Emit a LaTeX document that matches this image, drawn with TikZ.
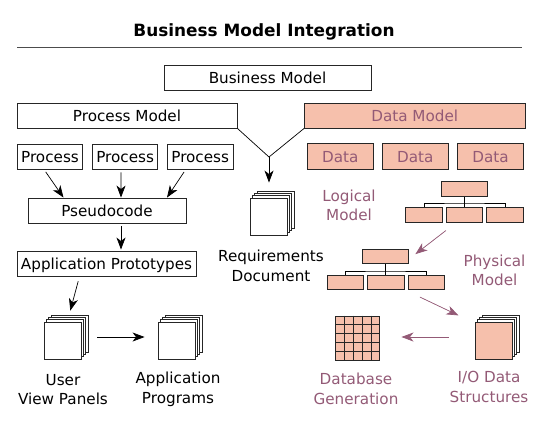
\documentclass[tikz,border=0pt]{standalone}
\usepackage{fontspec}
\setmainfont{DejaVu Sans}
\usetikzlibrary{arrows.meta, positioning, calc}
\definecolor{pmfill}{HTML}{F6C0AC}
\definecolor{pmtext}{HTML}{935A76}
\tikzset{
  pm box/.style={
    rectangle, draw=black!85, fill=white, line width=0.9pt,
    minimum height=25pt, inner sep=0pt, font=\pmfont,
    text height=12.5pt, text depth=0pt
  },
  pm data/.style={
    pm box, fill=pmfill, text=pmtext
  },
  pm org/.style={
    rectangle, draw=black!85, fill=pmfill, line width=0.9pt,
    minimum width=36.5pt, minimum height=14.5pt, inner sep=0pt
  },
  pm page/.style={
    rectangle, draw=black!85, fill=white, line width=0.9pt,
    minimum size=37pt, inner sep=0pt
  },
  pm arrow/.style={
    -{Stealth[length=12pt,width=9pt,inset=3.5pt]}, line width=0.7pt, draw=black
  },
  pm marrow/.style={
    pm arrow, draw=pmtext, fill=pmtext
  },
  pm label/.style={
    align=center, inner sep=0pt, font=\pmfont
  },
  pm mlabel/.style={
    pm label, text=pmtext
  }
}
\newcommand{\pmfont}{\fontsize{15.2}{19.5}\selectfont}

\begin{document}
\begin{tikzpicture}[x=1pt, y=-1pt, node distance=8.7pt and 8.7pt]
  \useasboundingbox (0,0) rectangle (540,429);

  % heading
  \node (title) [inner sep=0pt, font=\fontsize{16.9}{19}\selectfont\bfseries] at (264,32) {Business Model Integration};
  \coordinate (ruleL) at (17,47.5);
  \coordinate (ruleR) at (522,47.5);
  \draw [black!70, line width=0.9pt] (ruleL) -- (ruleR);

  % models
  \node (business) [pm box, minimum width=207pt] at (267.5,77.5) {Business Model};
  \node (process) [pm box, minimum width=220pt] at (127,115.5) {Process Model};
  \node (data) [pm data, minimum width=220.5pt] at (414.75,115.5) {Data Model};

  % left column
  \node (procA) [pm box, minimum width=65.5pt] at (50,156.5) {Process};
  \node (procB) [pm box, minimum width=65.5pt, right=of procA] {Process};
  \node (procC) [pm box, minimum width=65.5pt, right=of procB] {Process};
  \node (pseudo) [pm box, minimum width=158pt] at (107,210.5) {Pseudocode};
  \node (proto) [pm box, minimum width=179pt] at (106.5,263.5) {Application Prototypes};

  % page stacks
  \foreach \d in {7,4.7,2.3} {
    \node [pm page] at (62.5+\d,340.5-\d) {};
    \node [pm page] at (176.5+\d,340.5-\d) {};
    \node [pm page] at (268.5+\d,216.5-\d) {};
    \node [pm page] at (493.5+\d,340.5-\d) {};
  }
  \node (panels) [pm page] at (62.5,340.5) {};
  \node (programs) [pm page] at (176.5,340.5) {};
  \node (reqdoc) [pm page] at (268.5,216.5) {};
  \node (iodata) [pm page, fill=pmfill] at (493.5,340.5) {};

  % right column
  \node (dataA) [pm data, minimum width=65.5pt, minimum height=26pt] at (340.25,156) {Data};
  \node (dataB) [pm data, minimum width=65.5pt, minimum height=26pt, right=of dataA] {Data};
  \node (dataC) [pm data, minimum width=65.5pt, minimum height=26pt, right=of dataB] {Data};

  % logical chart
  \node (logTop) [pm org, minimum width=46pt] at (464,189) {};
  \node (logA) [pm org] at (424,215) {};
  \node (logB) [pm org, right=3.1pt of logA] {};
  \node (logC) [pm org, right=3.1pt of logB] {};
  \draw [line width=0.7pt] (logTop.south) -- (logB.north -| logTop);
  \draw [line width=0.7pt] (logA.north) |- (logTop |- 0,203) -| (logC.north);

  % physical chart
  \node (phyTop) [pm org, minimum width=46pt] at (385,256.5) {};
  \node (phyA) [pm org] at (345.5,282.5) {};
  \node (phyB) [pm org, right=3.1pt of phyA] {};
  \node (phyC) [pm org, right=3.1pt of phyB] {};
  \draw [line width=0.7pt] (phyTop.south) -- (phyB.north -| phyTop);
  \draw [line width=0.7pt] (phyA.north) |- (phyTop |- 0,271) -| (phyC.north);

  % database grid
  \node (dbgrid) [pm org, minimum width=44pt, minimum height=44pt] at (357.5,338) {};
  \foreach \i in {1,...,4} {
    \draw [line width=0.9pt, black!85] ($(dbgrid.north west)!\i/5!(dbgrid.north east)$) -- ($(dbgrid.south west)!\i/5!(dbgrid.south east)$);
    \draw [line width=0.9pt, black!85] ($(dbgrid.north west)!\i/5!(dbgrid.south west)$) -- ($(dbgrid.north east)!\i/5!(dbgrid.south east)$);
  }

  % labels
  \node (lblReq) [pm label] at (271,266) {Requirements\\Document};
  \node (lblUser) [pm label] at (63,389.5) {User\\View Panels};
  \node (lblProg) [pm label] at (178,389.5) {Application\\Programs};
  \node (lblLog) [pm mlabel] at (349,205.5) {Logical\\Model};
  \node (lblPhy) [pm mlabel] at (494.5,270.5) {Physical\\Model};
  \node (lblDb) [pm mlabel] at (356,389) {Database\\Generation};
  \node (lblIo) [pm mlabel] at (489,387) {I/O Data\\Structures};

  % connectors
  \coordinate (merge) at (269,157);
  \draw [line width=0.7pt] (process.south east) -- (merge) -- (data.south west);
  \draw [pm arrow, shorten >=15pt] (merge) -- (reqdoc.north -| merge);

  \draw [pm arrow, shorten <=3pt] ([xshift=-6pt]procA.south) -- ([xshift=-43.5pt]pseudo.north);
  \draw [pm arrow, shorten <=3pt] ([xshift=-4pt]procB.south) -- ([xshift=14pt]pseudo.north);
  \draw [pm arrow, shorten <=3pt] ([xshift=-14.5pt]procC.south) -- ([xshift=60pt]pseudo.north);
  \draw [pm arrow, shorten <=3pt, shorten >=1pt] ([xshift=14pt]pseudo.south) -- ([xshift=14.5pt]proto.north);
  \draw [pm arrow, shorten <=5pt, shorten >=3pt] ([xshift=-27pt]proto.south) -- ([xshift=7pt,yshift=8pt]panels.north);
  \draw [pm arrow, shorten <=16pt, shorten >=13pt] ([yshift=3.5pt]panels.east) -- ([yshift=3.5pt]programs.west);

  \draw [pm marrow, shorten <=12.8pt, shorten >=8.8pt] ([xshift=-8.5pt]logB.south) -- ([yshift=-3pt]phyTop.east);
  \draw [pm marrow, shorten <=16pt, shorten >=17.8pt] ([xshift=-21pt]phyC.south) -- ([yshift=-1.5pt]iodata.north west);
  \draw [pm marrow, shorten >=21.5pt] ([xshift=-26pt,yshift=3.5pt]iodata.west) -- ([yshift=1pt]dbgrid.east);
\end{tikzpicture}
\end{document}
